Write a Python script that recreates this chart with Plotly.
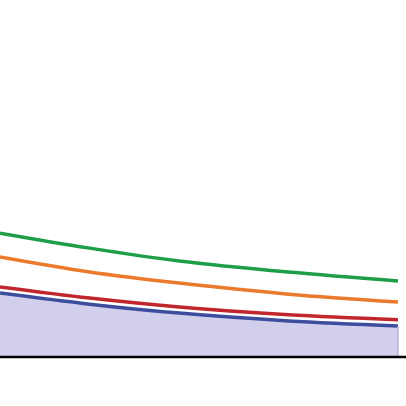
import plotly.graph_objects as go

# Valeurs (axe x en unités arbitraires)
x_vals = [0, 9, 18, 29, 40]
green_vals = [34.7, 30.5, 26.9, 23.8, 21.3]
orange_vals = [28.0, 23.8, 20.7, 17.6, 15.4]
red_vals = [19.6, 16.5, 14.0, 11.8, 10.4]
blue_vals = [17.9, 14.8, 12.3, 10.1, 8.7]

fig = go.Figure()

# Zone remplie sous la courbe bleue
fig.add_trace(go.Scatter(
    x=x_vals, y=blue_vals, mode="lines", fill="tozeroy",
    fillcolor="#d2cfec", line=dict(color="#d2cfec", width=1, shape="spline"),
    hoverinfo="skip", showlegend=False
))

series = [
    (green_vals, "#1f9e48"),
    (orange_vals, "#ec7a2c"),
    (red_vals, "#c0272d"),
    (blue_vals, "#3d4d9e"),
]
for vals, col in series:
    fig.add_trace(go.Scatter(
        x=x_vals, y=vals, mode="lines",
        line=dict(color=col, width=3.5, shape="spline"),
        showlegend=False
    ))

# Bord droit de la zone remplie
fig.add_shape(type="line", x0=x_vals[-1], x1=x_vals[-1], y0=0, y1=blue_vals[-1],
              line=dict(color="#b9b4de", width=1.5))

fig.update_xaxes(range=[0, 40 * 406 / 398], showgrid=False, zeroline=False,
                 showticklabels=False, showline=False)
fig.update_yaxes(range=[0, 100], showgrid=False, zeroline=False,
                 showticklabels=False, showline=False)

# Ligne de base noire (en coordonnées papier pour ne pas être coupée)
fig.add_shape(type="line", xref="paper", yref="paper", x0=0, x1=1, y0=0, y1=0,
              line=dict(color="black", width=2.5))

fig.update_layout(
    width=406, height=406,
    margin=dict(l=0, r=0, t=0, b=49),
    plot_bgcolor="white", paper_bgcolor="white",
)

# pas de marge autour de la page
fig.write_html("out.html", config={"displayModeBar": False},
               post_script="document.body.style.margin='0';")
